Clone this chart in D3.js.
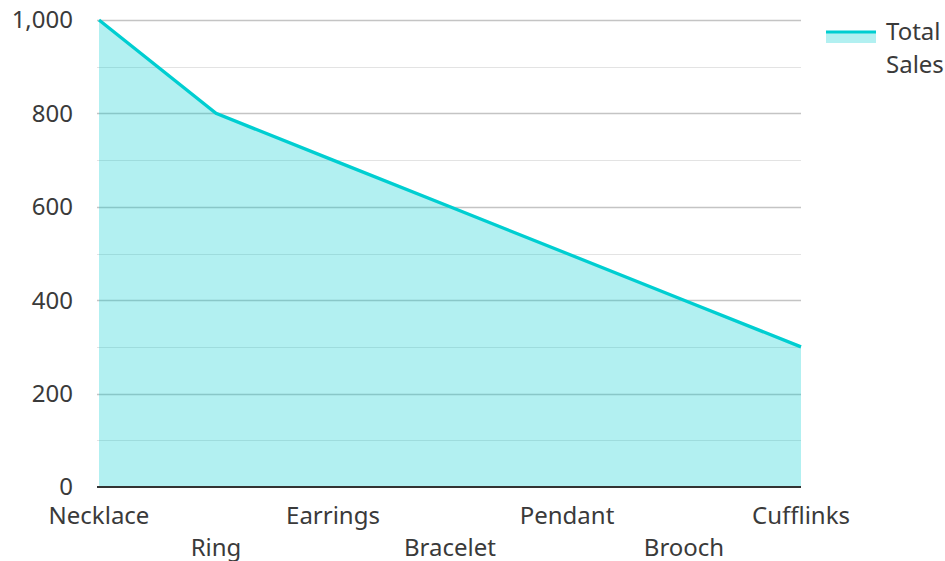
<!DOCTYPE html>
<html><head><meta charset="utf-8">
<script src="https://cdn.jsdelivr.net/npm/d3@7"></script>
<style>body{margin:0;background:#fff;}svg{display:block;font-family:"Noto Sans",sans-serif;}</style>
</head><body><svg id="c" width="945" height="561"></svg>
<script>
const categories = ["Necklace","Ring","Earrings","Bracelet","Pendant","Brooch","Cufflinks"];
const totalSales = [1000,800,700,600,500,400,300];
const yTicks = [0,200,400,600,800,1000];
const yMinorTicks = [100,300,500,700,900];
const seriesName = ["Total","Sales"];

const svg = d3.select("#c");
const L = 99, R = 801, T = 20, B = 487;
const color = "#00CED1";
const x = d3.scalePoint().domain(categories).range([L, R]);
const y = d3.scaleLinear().domain([0, 1000]).range([B, T]);

// gridlines
svg.append("g").selectAll("line").data(yMinorTicks).join("line")
  .attr("x1", L-2).attr("x2", R).attr("y1", d=>Math.round(y(d))+0.5).attr("y2", d=>Math.round(y(d))+0.5)
  .attr("stroke", "#e3e3e3").attr("stroke-width", 1);
svg.append("g").selectAll("line").data(yTicks.filter(d=>d>0)).join("line")
  .attr("x1", L-2).attr("x2", R).attr("y1", d=>Math.round(y(d))+0.5).attr("y2", d=>Math.round(y(d))+0.5)
  .attr("stroke", "#c4c4c4").attr("stroke-width", 1.3);

const data = categories.map((c,i)=>({c, v: totalSales[i]}));
svg.append("path").datum(data)
  .attr("d", d3.area().x(d=>x(d.c)).y0(y(0)).y1(d=>y(d.v)))
  .attr("fill", color).attr("fill-opacity", 0.3);
svg.append("path").datum(data)
  .attr("d", d3.line().x(d=>x(d.c)).y(d=>y(d.v)))
  .attr("fill", "none").attr("stroke", color).attr("stroke-width", 3.3);

// baseline
svg.append("line").attr("x1", L-2).attr("x2", R).attr("y1", y(0)).attr("y2", y(0))
  .attr("stroke", "#333").attr("stroke-width", 2);

// y labels
svg.append("g").selectAll("text").data(yTicks).join("text")
  .attr("x", 73).attr("y", d=>y(d)).attr("dy", "0.35em")
  .attr("text-anchor", "end").attr("font-size", 24).attr("fill", "#3a3a3a")
  .text(d=>d3.format(",")(d));

// x labels
svg.append("g").selectAll("text").data(categories).join("text")
  .attr("x", d=>x(d)).attr("y", (d,i)=> i%2===0 ? 524 : 556)
  .attr("text-anchor", "middle").attr("font-size", 24).attr("fill", "#3a3a3a")
  .text(d=>d);

// legend
const lg = svg.append("g");
lg.append("rect").attr("x", 826).attr("y", 31).attr("width", 50).attr("height", 12)
  .attr("fill", color).attr("fill-opacity", 0.3);
lg.append("line").attr("x1", 826).attr("x2", 876).attr("y1", 32).attr("y2", 32)
  .attr("stroke", color).attr("stroke-width", 3);
lg.selectAll("text").data(seriesName).join("text")
  .attr("x", 886).attr("y", (d,i)=>40 + i*33)
  .attr("font-size", 24).attr("fill", "#3a3a3a").text(d=>d);
</script></body></html>
